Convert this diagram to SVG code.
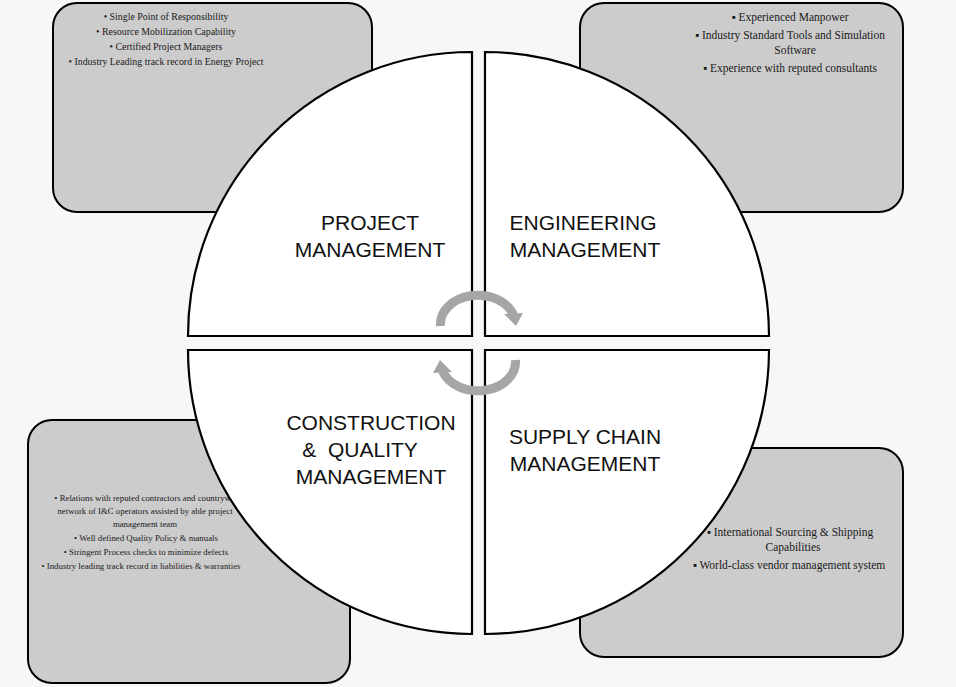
<svg xmlns="http://www.w3.org/2000/svg" width="956" height="687" viewBox="0 0 956 687">
<style>
.box{fill:#cccccc;stroke:#000;stroke-width:2}
.q{fill:#ffffff;stroke:#000;stroke-width:2.2}
.lbl{font-family:"Liberation Sans",Arial,sans-serif;font-size:21px;fill:#111;text-anchor:middle}
.bt{font-family:"Liberation Serif","Times New Roman",serif;fill:#1a1a1a;text-anchor:middle}
.arr{fill:none;stroke:#a6a6a6;stroke-width:9}
.head{fill:#a6a6a6}
</style>
<rect width="956" height="687" fill="#f7f7f7"/>
<g id="box-pm">
<rect class="box" x="53" y="3" width="319" height="209" rx="24"/>
<g class="bt" font-size="9.9">
<text x="166" y="19.5">• Single Point of Responsibility</text>
<text x="166" y="34.5">• Resource Mobilization Capability</text>
<text x="166" y="49.5">• Certified Project Managers</text>
<text x="166" y="64.5">• Industry Leading track record in Energy Project</text>
</g>
</g>
<g id="box-em">
<rect class="box" x="580" y="3" width="323" height="209" rx="24"/>
<g class="bt" font-size="11.5">
<text x="790" y="21">▪ Experienced Manpower</text>
<text x="790" y="39">▪ Industry Standard Tools and Simulation</text>
<text x="795" y="54">Software</text>
<text x="790" y="72">▪ Experience with reputed consultants</text>
</g>
</g>
<g id="box-cq">
<rect class="box" x="28" y="420" width="322" height="263" rx="24"/>
<g class="bt" font-size="8.8">
<text x="148" y="501">• Relations with reputed contractors and countrywide</text>
<text x="145" y="514">network of I&amp;C operators assisted by able project</text>
<text x="145" y="527">management team</text>
<text x="146" y="541">• Well defined Quality Policy &amp; manuals</text>
<text x="146" y="555">• Stringent Process checks to minimize defects</text>
<text x="141" y="569">• Industry leading track record in liabilities &amp; warranties</text>
</g>
</g>
<g id="box-sc">
<rect class="box" x="580" y="448" width="323" height="209" rx="24"/>
<g class="bt" font-size="11.5">
<text x="790" y="536">▪ International Sourcing &amp; Shipping</text>
<text x="793" y="551">Capabilities</text>
<text x="789" y="569">▪ World-class vendor management system</text>
</g>
</g>
<g id="node-pm">
<path class="q" d="M472,336 L188,336 A284,284 0 0 1 472,52 Z"/>
<text class="lbl" x="370" y="230">PROJECT</text>
<text class="lbl" x="370" y="257">MANAGEMENT</text>
</g>
<g id="node-em">
<path class="q" d="M485,336 L485,52 A284,284 0 0 1 769,336 Z"/>
<text class="lbl" x="583" y="230">ENGINEERING</text>
<text class="lbl" x="585" y="257">MANAGEMENT</text>
</g>
<g id="node-cq">
<path class="q" d="M472,350 L472,634 A284,284 0 0 1 188,350 Z"/>
<text class="lbl" x="371" y="430">CONSTRUCTION</text>
<text class="lbl" x="360" y="457" word-spacing="6">&amp; QUALITY</text>
<text class="lbl" x="371" y="484">MANAGEMENT</text>
</g>
<g id="node-sc">
<path class="q" d="M485,350 L769,350 A284,284 0 0 1 485,634 Z"/>
<text class="lbl" x="585" y="444">SUPPLY CHAIN</text>
<text class="lbl" x="585" y="471">MANAGEMENT</text>
</g>
<g id="connectors">
<g id="cycle-top">
<path class="arr" d="M440.5,326 A37.5,29 0 0 1 513.5,315"/>
<polygon class="head" points="504,314 523,313 516,326"/>
</g>
<g id="cycle-bottom" transform="rotate(180 478 343)">
<path class="arr" d="M440.5,326 A37.5,29 0 0 1 513.5,315"/>
<polygon class="head" points="504,314 523,313 516,326"/>
</g>
</g>
</svg>
